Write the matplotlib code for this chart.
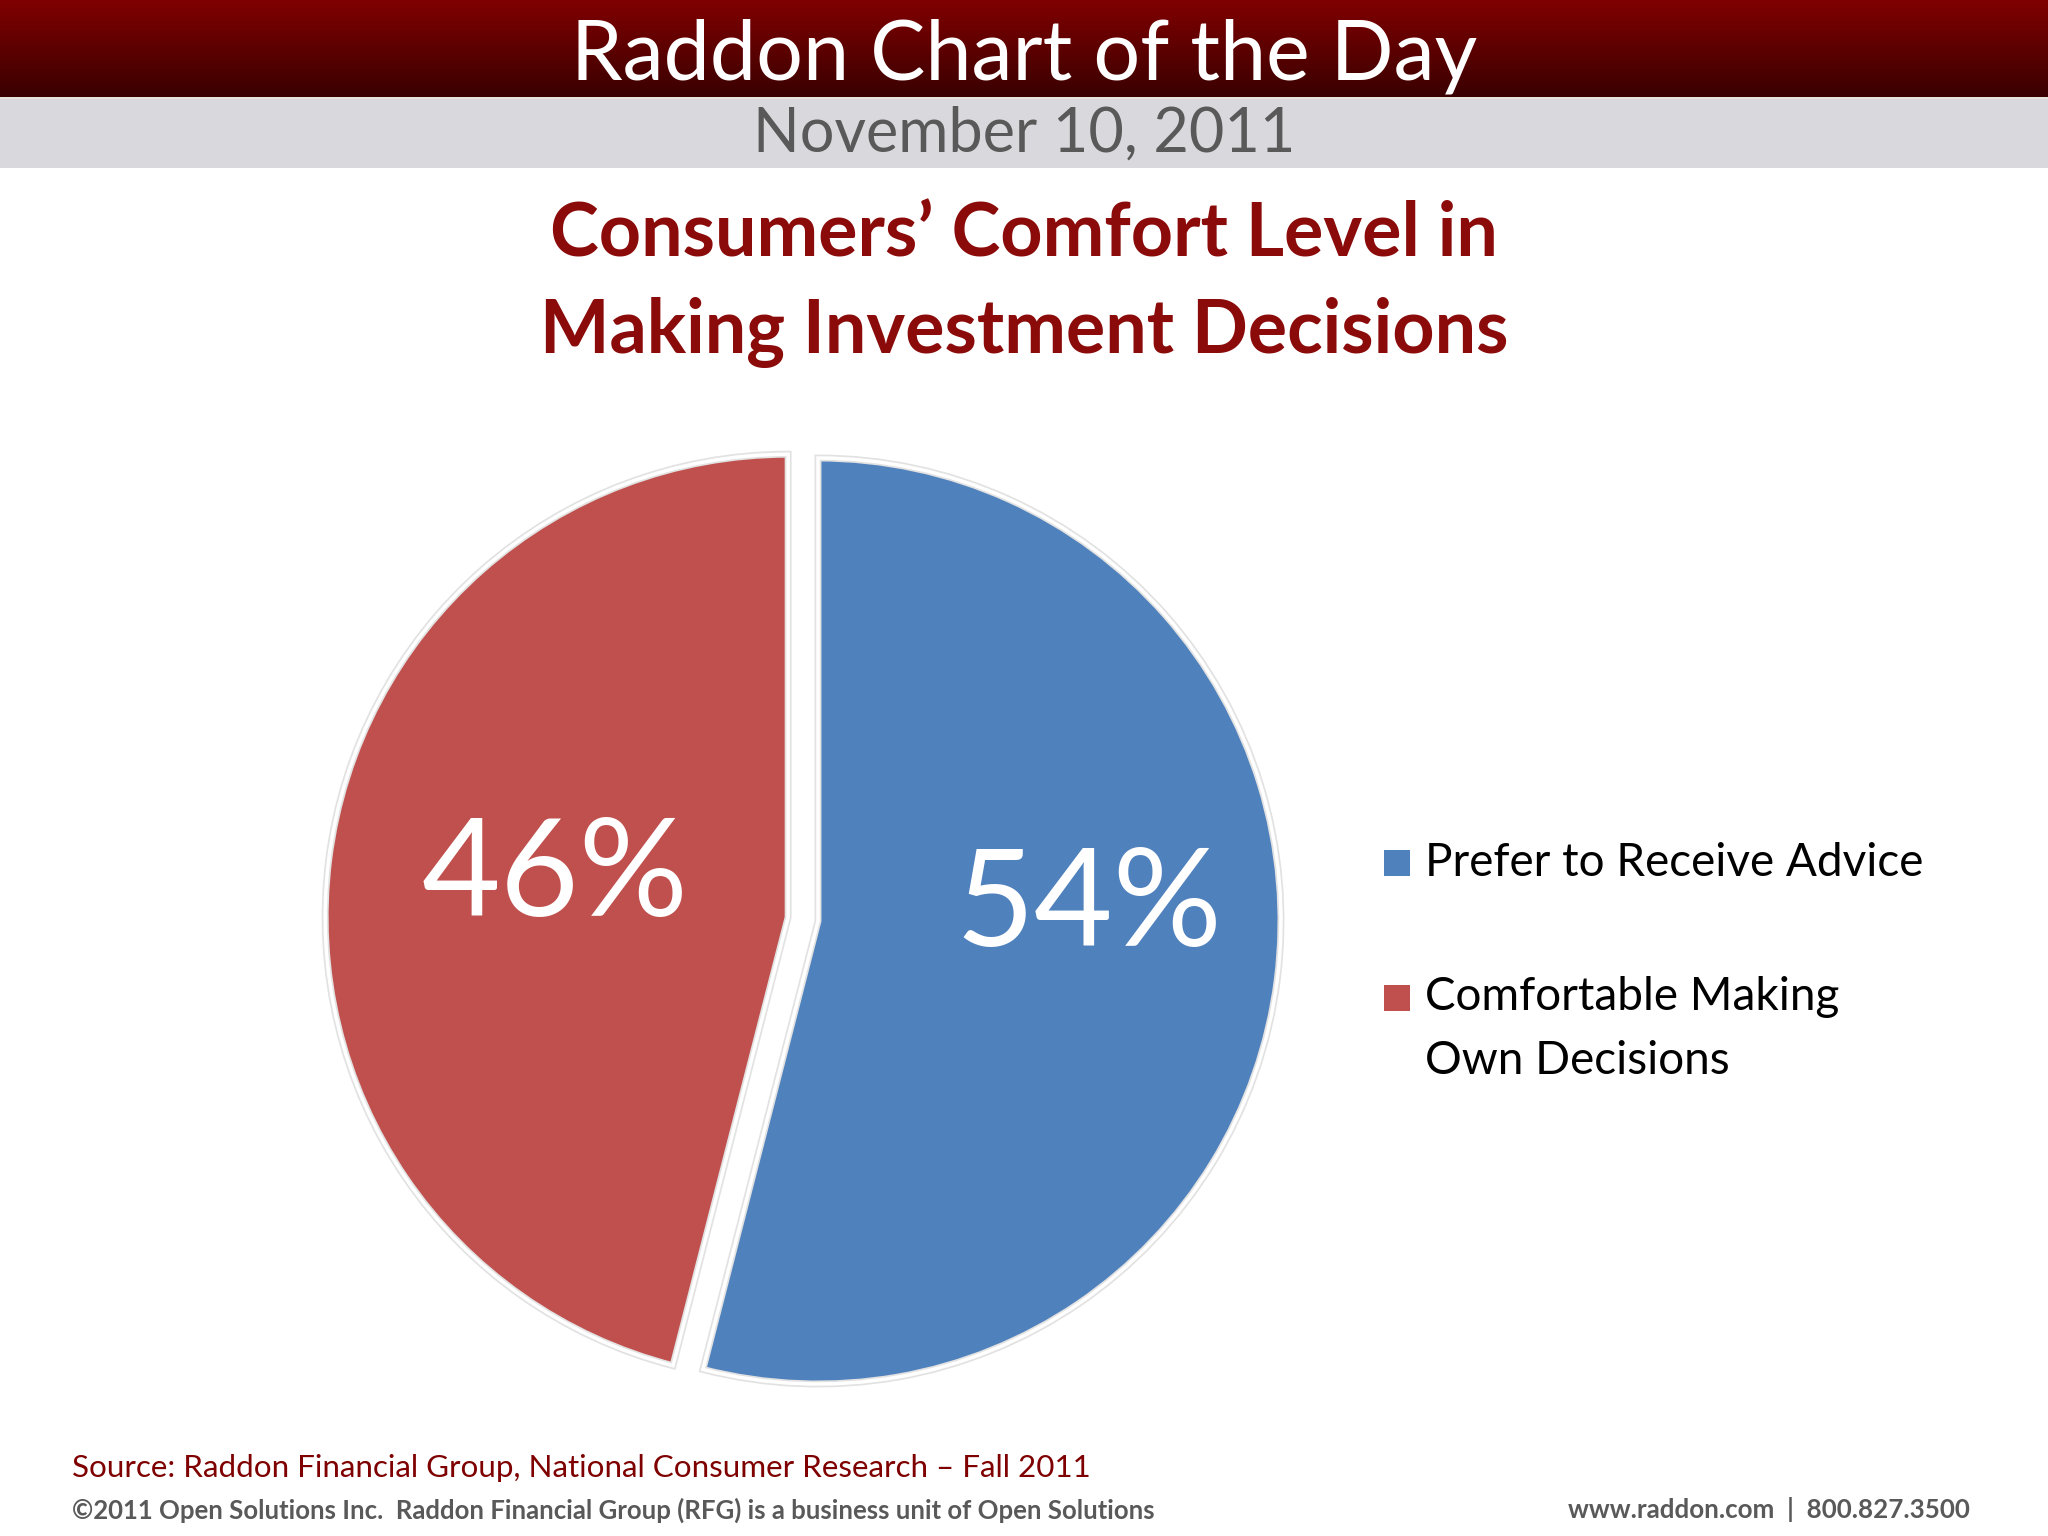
import matplotlib
matplotlib.use("Agg")
import matplotlib.pyplot as plt
import matplotlib.patches as mpatches
import numpy as np

# chart data
categories = ["Prefer to Receive Advice", "Comfortable Making\nOwn Decisions"]
shares = [54, 46]
slice_colors = ["#4f81bd", "#c0504d"]
explode = [0.0, 0.065]

header_title = "Raddon Chart of the Day"
header_date = "November 10, 2011"
chart_title = "Consumers\u2019 Comfort Level in\nMaking Investment Decisions"
source_note = "Source: Raddon Financial Group, National Consumer Research \u2013 Fall 2011"
copyright_note = "\u00a92011 Open Solutions Inc.  Raddon Financial Group (RFG) is a business unit of Open Solutions"
contact_note = "www.raddon.com  |  800.827.3500"

plt.rcParams["font.family"] = ["Lato", "DejaVu Sans"]

W, H = 2048, 1536
fig = plt.figure(figsize=(W / 100, H / 100), dpi=100)
fig.patch.set_facecolor("white")


def fx(px):
    return px / W


def fy(py):
    # pixel rows from top -> figure fraction
    return 1 - py / H


# header band with a dark red gradient
ax_head = fig.add_axes([0, fy(97), 1, 97 / H])
grad = np.linspace(0, 1, 256).reshape(-1, 1)
top = np.array([128, 0, 0]) / 255
bot = np.array([58, 0, 0]) / 255
img = top[None, None, :] * (1 - grad[:, :, None]) + bot[None, None, :] * grad[:, :, None]
ax_head.imshow(img, aspect="auto", extent=[0, 1, 0, 1])
ax_head.set_axis_off()

# grey date band
fig.patches.append(mpatches.Rectangle((0, fy(168)), 1, 71 / H, transform=fig.transFigure,
                                      facecolor="#d9d8dc", edgecolor="none", zorder=0))
fig.patches.append(mpatches.Rectangle((0, fy(99)), 1, 2 / H, transform=fig.transFigure,
                                      facecolor="#e8e4dc", edgecolor="none", zorder=1))

fig.text(0.5, fy(56), header_title, ha="center", va="center", color="white", fontsize=59.5)
fig.text(0.5, fy(134), header_date, ha="center", va="center", color="#595959", fontsize=44)
fig.text(0.5, fy(284), chart_title, ha="center", va="center", color="#8b0a0a",
         fontsize=53, fontweight="bold", linespacing=1.49)

# pie
cx, cy, r = 818, 921, 463
half = r * 1.1
ax = fig.add_axes([fx(cx - half), fy(cy + half), 2 * half / W, 2 * half / H])
wedges, _ = ax.pie(shares, colors=slice_colors, explode=explode, startangle=90,
                   counterclock=False, radius=1.0,
                   wedgeprops=dict(edgecolor="#e2e2e2", linewidth=5))
for w in wedges:
    # white rim over a faint grey shadow
    ax.add_patch(mpatches.Wedge(w.center, w.r, w.theta1, w.theta2, facecolor="none",
                                edgecolor="white", linewidth=2.5))
ax.set_xlim(-1.1, 1.1)
ax.set_ylim(-1.1, 1.1)
ax.set_aspect("equal")
ax.set_axis_off()

# percentage labels, placed inside each slice
label_offsets = [(0.585, 0.03), (-0.568, 0.093)]
for w, val, (dx, dy) in zip(wedges, shares, label_offsets):
    ax.text(dx, dy, f"{val}%", ha="center", va="center", color="white", fontsize=98)

# legend, drawn by hand so the square sits beside the first line
leg_rows = [863, 998]
for cat, col, ry in zip(categories, slice_colors, leg_rows):
    fig.patches.append(mpatches.Rectangle((fx(1384), fy(ry + 13)), 26 / W, 26 / H,
                                          transform=fig.transFigure, facecolor=col,
                                          edgecolor="none"))
    n_lines = cat.count("\n")
    fig.text(fx(1425), fy(ry + 31 * n_lines), cat, ha="left", va="center", color="black",
             fontsize=33, linespacing=1.63)

# footer
fig.text(fx(72), fy(1468), source_note, ha="left", va="center", color="#7f0000", fontsize=22.6)
fig.text(fx(72), fy(1510), copyright_note, ha="left", va="center", color="#595959",
         fontsize=18.5, fontweight="bold")
fig.text(fx(1970), fy(1510), contact_note, ha="right", va="center", color="#595959",
         fontsize=18.7, fontweight="bold")

fig.savefig("out.png", dpi=100)
